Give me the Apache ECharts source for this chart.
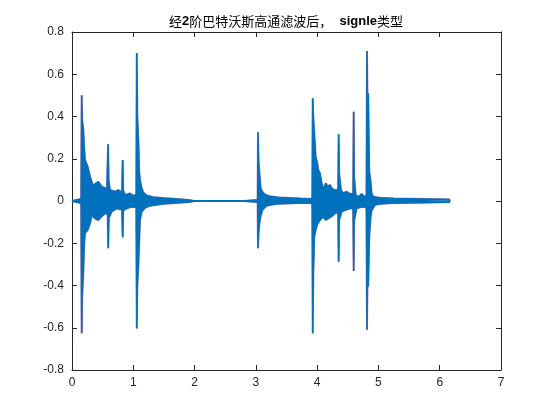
<!DOCTYPE html>
<html>
<head>
<meta charset="utf-8">
<script src="https://cdn.jsdelivr.net/npm/echarts@6/dist/echarts.min.js"></script>
<style>html,body{margin:0;padding:0;background:#fff;}#c{width:554px;height:415px;}</style>
</head>
<body>
<div id="c"></div>
<script>
// Upper envelope of the filtered waveform (time in s, amplitude)
var upperT = [0, 0.150, 0.158, 0.166, 0.184, 0.199, 0.212, 0.256, 0.294, 0.348, 0.375, 0.403, 0.429, 0.485, 0.538, 0.571, 0.589, 0.597, 0.620, 0.702, 0.755, 0.816, 0.827, 0.835, 0.865, 0.946, 1.000, 1.049, 1.057, 1.066, 1.084, 1.096, 1.109, 1.137, 1.163, 1.219, 1.326, 1.490, 1.700, 1.900, 2.000, 2.800, 2.806, 2.812, 3.029, 3.035, 3.044, 3.056, 3.078, 3.100, 3.149, 3.231, 3.394, 3.720, 3.911, 3.921, 3.928, 3.937, 3.953, 3.976, 3.997, 4.019, 4.046, 4.074, 4.100, 4.140, 4.172, 4.210, 4.237, 4.280, 4.343, 4.351, 4.359, 4.389, 4.426, 4.482, 4.536, 4.588, 4.596, 4.604, 4.629, 4.671, 4.727, 4.769, 4.805, 4.813, 4.822, 4.833, 4.850, 4.872, 4.889, 4.915, 5.025, 5.242, 5.787, 6.156, 6.167];
var upperV = [0, 0.010, 0.500, 0.380, 0.344, 0.250, 0.194, 0.162, 0.115, 0.068, 0.080, 0.076, 0.091, 0.068, 0.061, 0.060, 0.268, 0.100, 0.052, 0.044, 0.052, 0.040, 0.194, 0.050, 0.028, 0.036, 0.024, 0.030, 0.700, 0.400, 0.273, 0.140, 0.100, 0.060, 0.040, 0.026, 0.018, 0.014, 0.010, 0.005, 0, 0, 0.006, 0, 0.005, 0.325, 0.190, 0.140, 0.060, 0.045, 0.030, 0.022, 0.016, 0.012, 0.010, 0.020, 0.486, 0.400, 0.320, 0.210, 0.186, 0.147, 0.131, 0.084, 0.052, 0.084, 0.068, 0.076, 0.060, 0.052, 0.050, 0.316, 0.130, 0.052, 0.036, 0.044, 0.033, 0.035, 0.423, 0.110, 0.028, 0.019, 0.033, 0.019, 0.025, 0.710, 0.450, 0.510, 0.140, 0.090, 0.036, 0.020, 0.015, 0.012, 0.009, 0.007, 0];
// Lower envelope of the filtered waveform
var lowerT = [0, 0.150, 0.158, 0.166, 0.184, 0.199, 0.212, 0.256, 0.294, 0.321, 0.375, 0.429, 0.480, 0.538, 0.582, 0.591, 0.600, 0.647, 0.729, 0.816, 0.827, 0.835, 0.892, 0.973, 1.049, 1.057, 1.066, 1.084, 1.109, 1.137, 1.191, 1.273, 1.490, 1.700, 1.900, 2.000, 2.800, 2.806, 2.812, 3.029, 3.035, 3.044, 3.056, 3.078, 3.111, 3.176, 3.339, 3.720, 3.911, 3.921, 3.928, 3.937, 3.953, 3.976, 4.008, 4.046, 4.100, 4.140, 4.183, 4.227, 4.292, 4.343, 4.351, 4.359, 4.400, 4.454, 4.536, 4.588, 4.596, 4.604, 4.645, 4.727, 4.805, 4.813, 4.822, 4.833, 4.850, 4.872, 4.889, 4.943, 5.025, 5.242, 5.787, 6.156, 6.167];
var lowerV = [0, -0.010, -0.626, -0.450, -0.342, -0.200, -0.152, -0.137, -0.105, -0.066, -0.082, -0.090, -0.074, -0.058, -0.060, -0.224, -0.080, -0.050, -0.035, -0.040, -0.172, -0.045, -0.035, -0.027, -0.030, -0.603, -0.400, -0.295, -0.090, -0.050, -0.032, -0.022, -0.013, -0.009, -0.005, 0, 0, -0.006, 0, -0.005, -0.224, -0.150, -0.110, -0.070, -0.040, -0.022, -0.013, -0.010, -0.010, -0.020, -0.626, -0.350, -0.169, -0.137, -0.106, -0.090, -0.074, -0.090, -0.082, -0.074, -0.058, -0.050, -0.287, -0.090, -0.050, -0.043, -0.035, -0.035, -0.331, -0.090, -0.035, -0.027, -0.030, -0.610, -0.350, -0.405, -0.170, -0.075, -0.045, -0.018, -0.013, -0.010, -0.007, -0.005, 0];
var signalEnd = 6.167;
var xTicks = [0, 1, 2, 3, 4, 5, 6, 7];
var yTicks = [-0.8, -0.6, -0.4, -0.2, 0, 0.2, 0.4, 0.6, 0.8];

function zip(t, v) { var out = []; for (var i = 0; i < t.length; i++) out.push([t[i], v[i]]); return out; }
var upperData = zip(upperT, upperV);
var lowerData = zip(lowerT, lowerV);
var zeroData = [[0, 0], [signalEnd, 0]];

var blue = '#0072BD';
var fringe = '#8C6E9C';
var axisColor = '#262626';
var labelFont = { color: axisColor, fontSize: 12, fontFamily: 'Liberation Sans, Arial, sans-serif' };

function fmtY(v) { return String(Math.round(v * 10) / 10); }

var chart = echarts.init(document.getElementById('c'), null, { renderer: 'canvas' });
chart.setOption({
  animation: false,
  backgroundColor: '#ffffff',
  title: {
    left: 281, top: 10, textAlign: 'center',
    text: '{c|经}{b|2}{c|阶巴特沃斯高通滤波后，}{b|  signle}{c|类型}',
    textStyle: {
      rich: {
        c: { fontSize: 13, fontFamily: 'Noto Sans CJK SC', color: '#000', fontWeight: 'normal' },
        b: { fontSize: 13, fontFamily: 'Liberation Sans, Arial', color: '#000', fontWeight: 'bold' }
      }
    }
  },
  grid: { left: 72, right: 53, top: 32, bottom: 45, containLabel: false },
  xAxis: [
    { type: 'value', min: xTicks[0], max: xTicks[xTicks.length - 1], interval: 1, position: 'bottom',
      axisLine: { show: true, onZero: false, lineStyle: { color: axisColor, width: 1 } },
      axisTick: { show: true, inside: true, length: 5, lineStyle: { color: axisColor } },
      axisLabel: Object.assign({ margin: 7 }, labelFont),
      splitLine: { show: false } },
    { type: 'value', min: xTicks[0], max: xTicks[xTicks.length - 1], interval: 1, position: 'top',
      axisLine: { show: true, onZero: false, lineStyle: { color: axisColor, width: 1 } },
      axisTick: { show: true, inside: true, length: 5, lineStyle: { color: axisColor } },
      axisLabel: { show: false }, splitLine: { show: false } }
  ],
  yAxis: [
    { type: 'value', min: yTicks[0], max: yTicks[yTicks.length - 1], interval: 0.2, position: 'left',
      axisLine: { show: true, onZero: false, lineStyle: { color: axisColor, width: 1 } },
      axisTick: { show: true, inside: true, length: 5, lineStyle: { color: axisColor } },
      axisLabel: Object.assign({ margin: 8, formatter: fmtY }, labelFont),
      splitLine: { show: false } },
    { type: 'value', min: yTicks[0], max: yTicks[yTicks.length - 1], interval: 0.2, position: 'right',
      axisLine: { show: true, onZero: false, lineStyle: { color: axisColor, width: 1 } },
      axisTick: { show: true, inside: true, length: 5, lineStyle: { color: axisColor } },
      axisLabel: { show: false }, splitLine: { show: false } }
  ],
  series: [
    { type: 'line', data: upperData, showSymbol: false, z: 1, lineStyle: { color: fringe, width: 2 } },
    { type: 'line', data: lowerData, showSymbol: false, z: 1, lineStyle: { color: fringe, width: 2 } },
    { type: 'line', data: upperData, showSymbol: false, z: 2, lineStyle: { color: blue, width: 1.3 },
      areaStyle: { color: blue, opacity: 1, origin: 0 } },
    { type: 'line', data: lowerData, showSymbol: false, z: 2, lineStyle: { color: blue, width: 1.3 },
      areaStyle: { color: blue, opacity: 1, origin: 0 } },
    { type: 'line', data: zeroData, showSymbol: false, z: 3, lineStyle: { color: blue, width: 1.5 } }
  ]
});
</script>
</body>
</html>
